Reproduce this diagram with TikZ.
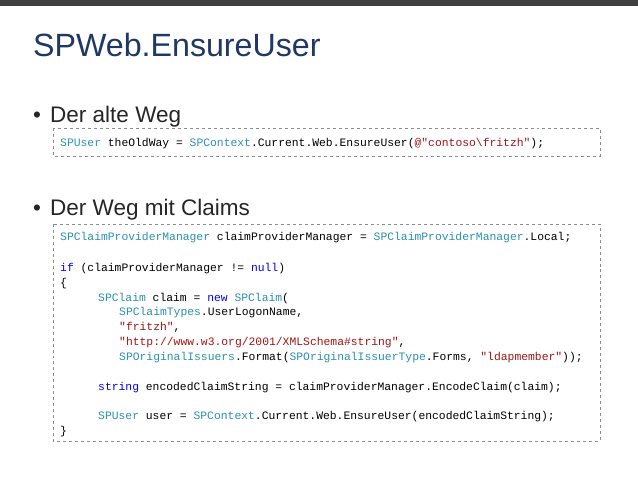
\documentclass[tikz,border=0pt]{standalone}
\usepackage{fontspec}
\setmainfont{Liberation Sans}
\newfontfamily\codefont{Liberation Mono}
\definecolor{ty}{HTML}{2B91AF}
\definecolor{kw}{HTML}{0000FF}
\definecolor{st}{HTML}{A31515}
\definecolor{titlec}{HTML}{1F3864}
\definecolor{bar}{HTML}{404040}
\newcommand{\T}[1]{\textcolor{ty}{#1}}
\newcommand{\K}[1]{\textcolor{kw}{#1}}
\newcommand{\Sx}[1]{\textcolor{st}{#1}}
\tikzset{
  code/.style={anchor=base west,inner sep=0pt,font=\codefont\fontsize{11.4}{13}\selectfont},
  bul/.style={anchor=base west,inner sep=0pt,font=\fontsize{22.6}{26}\selectfont,text=black!85},
  codebox/.style={draw=black!45,dashed,line width=0.8pt},
}
\begin{document}
\begin{tikzpicture}[x=1bp,y=-1bp]
\useasboundingbox (0,0) rectangle (638,478);
\fill[white] (0,0) rectangle (638,478);
\fill[bar] (0,0) rectangle (638,6);
\node[anchor=base west,inner sep=0pt,font=\fontsize{32.3}{36}\selectfont,text=titlec] (title) at (33,57) {SPWeb.EnsureUser};
\node[bul] (b1) at (33,123) {•};
\node[bul] (t1) at (50,123) {Der alte Weg};
\draw[codebox] (53,128) rectangle (600,156);
\node[code] (o1) at (60,147) {\T{SPUser} theOldWay = \T{SPContext}.Current.Web.EnsureUser(\Sx{@"contoso\textbackslash fritzh"});};
\node[bul] (b2) at (33,216) {•};
\node[bul] (t2) at (50,216) {Der Weg mit Claims};
\draw[codebox] (53,224) rectangle (600,441);
\node[code] (c1) at (60,241) {\T{SPClaimProviderManager} claimProviderManager = \T{SPClaimProviderManager}.Local;};
\node[code] (c2) at (60,271) {\K{if} (claimProviderManager != \K{null})};
\node[code] (c3) at (60,286) {\{};
\node[code] (c4) at (98,301) {\T{SPClaim} claim = \K{new} \T{SPClaim}(};
\node[code] (c5) at (119,315.5) {\T{SPClaimTypes}.UserLogonName,};
\node[code] (c6) at (119,330.5) {\Sx{"fritzh"},};
\node[code] (c7) at (119,345.5) {\Sx{"http://www.w3.org/2001/XMLSchema\#string"},};
\node[code] (c8) at (119,360) {\T{SPOriginalIssuers}.Format(\T{SPOriginalIssuerType}.Forms, \Sx{"ldapmember"}));};
\node[code] (c9) at (98,390) {\K{string} encodedClaimString = claimProviderManager.EncodeClaim(claim);};
\node[code] (c10) at (98,419) {\T{SPUser} user = \T{SPContext}.Current.Web.EnsureUser(encodedClaimString);};
\node[code] (c11) at (60,434.5) {\}};
\end{tikzpicture}
\end{document}
